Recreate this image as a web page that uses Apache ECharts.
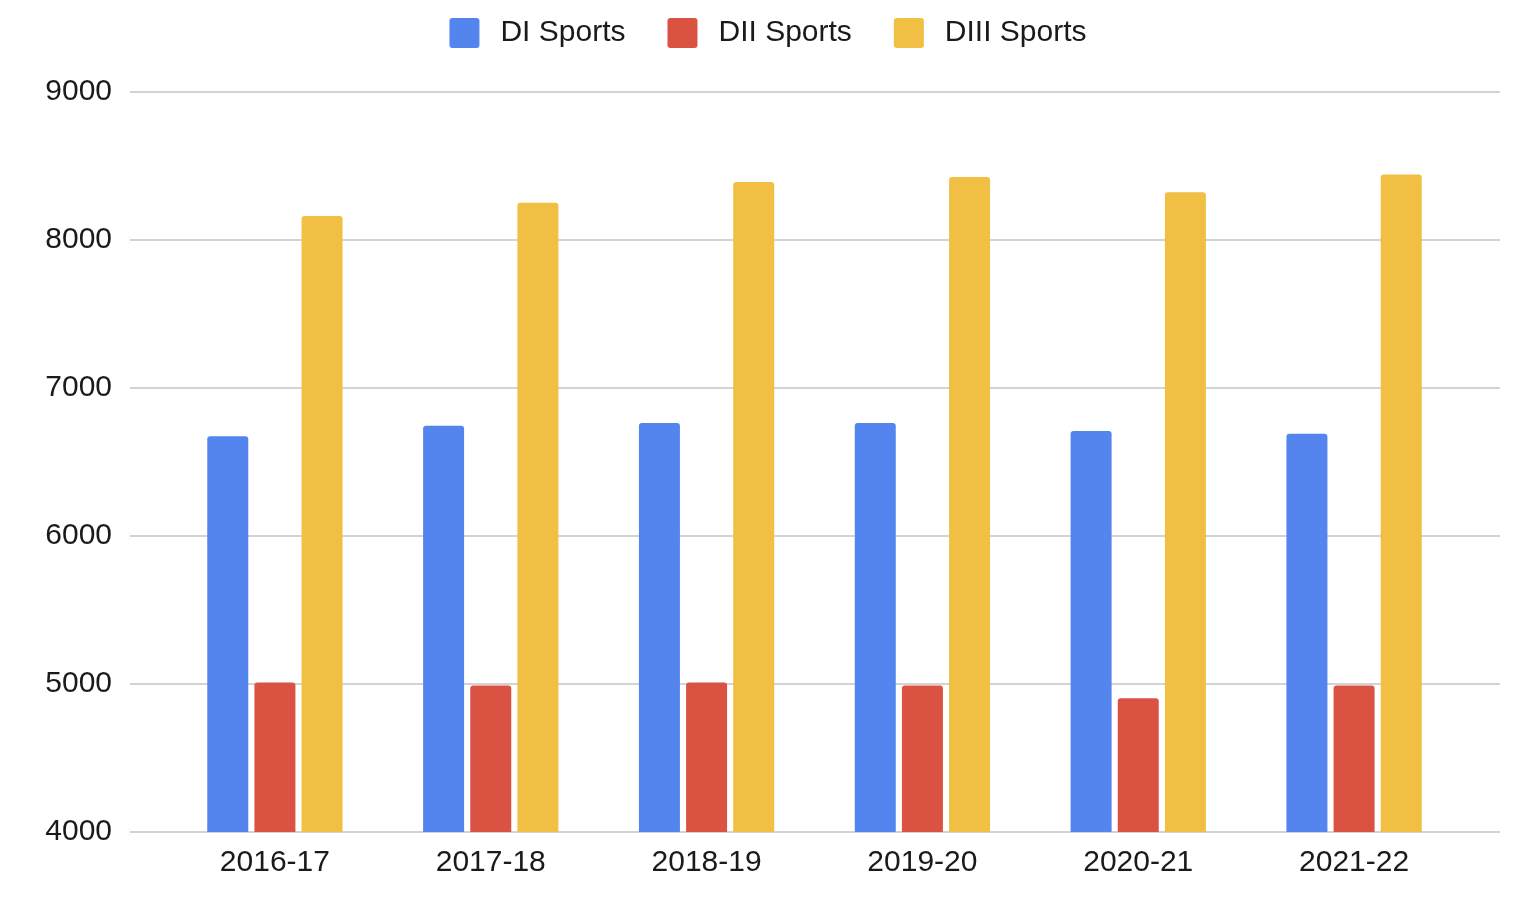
<!DOCTYPE html>
<html>
<head>
<meta charset="utf-8">
<script src="https://cdn.jsdelivr.net/npm/echarts@6/dist/echarts.min.js"></script>
<style>
  html, body { margin: 0; padding: 0; background: #fff; }
  #sportsChart { width: 1536px; height: 921px; }
</style>
</head>
<body>
<div id="sportsChart"></div>
<script>
// seasons on the x axis
const seasons = ["2016-17", "2017-18", "2018-19", "2019-20", "2020-21", "2021-22"];
// number of sports per division
const diSports = [6674, 6745, 6764, 6764, 6709, 6691];
const diiSports = [5010, 4990, 5010, 4990, 4903, 4990];
const diiiSports = [8162, 8252, 8392, 8426, 8322, 8443];
const yTicks = { min: 4000, max: 9000, step: 1000 };

const fontFamily = '"Liberation Sans", Arial, Helvetica, sans-serif';
const textColor = "#1a1a1a";
// square legend marker with small rounded corners
const legendIcon = "path://M3,0H27A3,3 0 0 1 30,3V27A3,3 0 0 1 27,30H3A3,3 0 0 1 0,27V3A3,3 0 0 1 3,0Z";

let myChart = echarts.init(document.getElementById("sportsChart"));

function barSeries(name, data, color) {
  return {
    name: name,
    type: "bar",
    xAxisIndex: 1,
    yAxisIndex: 1,
    barWidth: 41,
    barGap: "15%",
    itemStyle: {
      color: color,
      borderRadius: [3, 3, 0, 0],
    },
    data: data,
  };
}

let option = {
  animation: false,
  textStyle: { fontFamily: fontFamily },
  legend: {
    top: 13,
    left: "center",
    icon: legendIcon,
    itemWidth: 30,
    itemHeight: 30,
    itemGap: 42,
    textStyle: {
      fontSize: 30,
      color: textColor,
      fontFamily: fontFamily,
      padding: [0, 0, 0, 16],
    },
    data: ["DI Sports", "DII Sports", "DIII Sports"],
  },
  grid: [
    // grid 0 only draws the gridlines and y labels (wider than the bars)
    { left: 130, right: 36, top: 92, bottom: 89 },
    // grid 1 holds the bars
    { left: 167, right: 74, top: 92, bottom: 89 },
  ],
  xAxis: [
    { gridIndex: 0, type: "value", show: false },
    {
      gridIndex: 1,
      type: "category",
      data: seasons,
      axisLine: { show: false },
      axisTick: { show: false },
      axisLabel: {
        fontSize: 30,
        color: textColor,
        fontFamily: fontFamily,
        margin: 16,
      },
    },
  ],
  yAxis: [
    {
      gridIndex: 0,
      type: "value",
      min: yTicks.min,
      max: yTicks.max,
      interval: yTicks.step,
      axisLine: { show: false },
      axisTick: { show: false },
      axisLabel: {
        fontSize: 30,
        color: textColor,
        fontFamily: fontFamily,
        margin: 18,
        formatter: function (v) {
          return String(v);
        },
      },
      splitLine: {
        lineStyle: { color: "#d3d3d3", width: 2 },
      },
    },
    {
      gridIndex: 1,
      type: "value",
      min: yTicks.min,
      max: yTicks.max,
      interval: yTicks.step,
      show: false,
      splitLine: { show: false },
    },
  ],
  series: [
    barSeries("DI Sports", diSports, "#5484ed"),
    barSeries("DII Sports", diiSports, "#da5242"),
    barSeries("DIII Sports", diiiSports, "#f0bf43"),
  ],
};
myChart.setOption(option);
</script>
</body>
</html>
